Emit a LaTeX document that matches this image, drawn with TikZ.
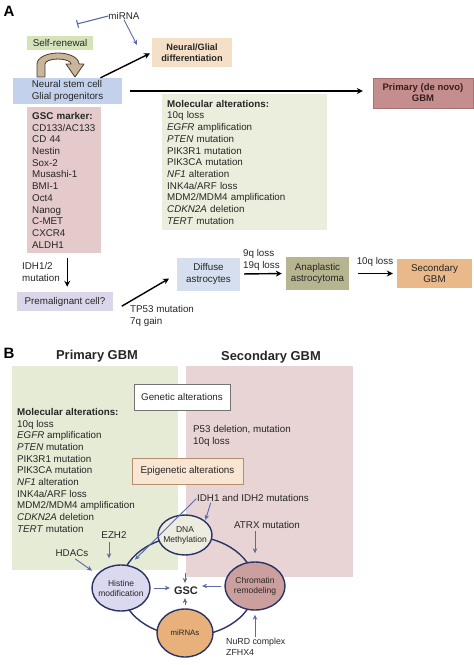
\documentclass[tikz,border=0pt]{standalone}
\usepackage{fontspec}
\setmainfont{Liberation Sans}
\usepackage{tikz}
\usetikzlibrary{arrows.meta,shapes.geometric}

\definecolor{ink}{HTML}{262626}
\definecolor{arrblue}{HTML}{5A6AA6}
\definecolor{navy}{HTML}{2A3363}
\definecolor{selfgreen}{HTML}{D5E3B8}
\definecolor{nscblue}{HTML}{C3D1EC}
\definecolor{neurtan}{HTML}{F5DFC6}
\definecolor{primrose}{HTML}{C48E8E}
\definecolor{primedge}{HTML}{A87272}
\definecolor{primink}{HTML}{3A1E1E}
\definecolor{gscpink}{HTML}{E4CACA}
\definecolor{molgreen}{HTML}{EBEEDC}
\definecolor{premlav}{HTML}{DCD6EA}
\definecolor{diffblue}{HTML}{D5DFF0}
\definecolor{anapolive}{HTML}{B7B58F}
\definecolor{secorange}{HTML}{E9B98A}
\definecolor{loopfill}{HTML}{C9B599}
\definecolor{loopedge}{HTML}{4D3B2A}
\definecolor{bgreen}{HTML}{E5EBD5}
\definecolor{bpink}{HTML}{E8D4D4}
\definecolor{epifill}{HTML}{F8E6D2}
\definecolor{epiedge}{HTML}{B58E6E}
\definecolor{histfill}{HTML}{DBD9EF}
\definecolor{dnafill}{HTML}{ECECDF}
\definecolor{chromfill}{HTML}{CC9F9F}
\definecolor{mirfill}{HTML}{E8B07A}

\newcommand{\bodysize}{\fontsize{9.8}{11.7}\selectfont}
\newcommand{\headsize}{\fontsize{9.2}{11}\selectfont\bfseries}
\newcommand{\titlesize}{\fontsize{12.9}{14}\selectfont\bfseries}
\newcommand{\ovalsize}{\fontsize{8.5}{10}\selectfont}

\begin{document}
\begin{tikzpicture}[x=1pt, y=-1pt,
  box/.style={inner sep=0pt, align=center, font=\bodysize, text=ink},
  lst/.style={anchor=north west, inner sep=0pt, align=left, font=\bodysize, text=ink},
  lbl/.style={inner sep=0pt, align=left, font=\bodysize, text=ink},
  arrow/.style={-{Stealth[length=6pt, width=6pt]}, line width=1.4pt, black},
  barrow/.style={-{Stealth[length=5pt, width=4.5pt]}, line width=0.9pt, arrblue},
  inhib/.style={-{Bar[width=8pt]}, line width=1.1pt, arrblue},
  epi/.style={ellipse, draw=navy, line width=1.4pt, inner sep=0pt},
  ovaltext/.style={align=center, font=\ovalsize, text=ink}
]
\useasboundingbox (0,0) rectangle (474,665);

% panel A
\node[font=\fontsize{15}{15}\selectfont\bfseries] (lblA) at (9,11) {A};
\node[box] (mirna) at (124,16) {miRNA};
\node[box, fill=selfgreen, minimum width=66pt, minimum height=14pt] (self) at (60,43) {Self-renewal};
\node[box, fill=neurtan, minimum width=80pt, minimum height=29pt, font=\headsize] (neur) at (192,52.5) {Neural/Glial\\differentiation};
\node[box, fill=nscblue, minimum width=109pt, minimum height=26pt, align=left] (nsc) at (67.5,91) {Neural stem cell\\Glial progenitors};
\node[box, fill=primrose, draw=primedge, minimum width=100pt, minimum height=30pt, font=\fontsize{9.5}{11}\selectfont\bfseries, text=primink] (prim) at (423,93) {Primary (de novo)\\GBM};
\node[lst, fill=gscpink, text width=64pt, inner xsep=5pt, minimum height=146pt] (gsc) at (27,107)
  {\textbf{GSC marker:}\\CD133/AC133\\CD 44\\Nestin\\Sox-2\\Musashi-1\\BMI-1\\Oct4\\Nanog\\C-MET\\CXCR4\\ALDH1};
\node[lst, fill=molgreen, text width=155pt, inner xsep=5pt, minimum height=136pt] (molA) at (162,94)
  {\textbf{Molecular alterations:}\\10q loss\\\textit{EGFR} amplification\\\textit{PTEN} mutation\\PIK3R1 mutation\\PIK3CA mutation\\\textit{NF1} alteration\\INK4a/ARF loss\\MDM2/MDM4 amplification\\\textit{CDKN2A} deletion\\\textit{TERT} mutation};
\node[lst] (idhA) at (22,262) {IDH1/2\\mutation};
\node[box, fill=premlav, minimum width=96pt, minimum height=19pt] (prem) at (65,301.5) {Premalignant cell?};
\node[lst] (tp53) at (130,305) {TP53 mutation\\7q gain};
\node[box, fill=diffblue, minimum width=63pt, minimum height=33pt] (diff) at (208.5,274) {Diffuse\\astrocytes};
\node[lst] (loss9) at (243,249) {9q loss\\19q loss};
\node[box, fill=anapolive, minimum width=63pt, minimum height=33pt] (anap) at (317.5,273.5) {Anaplastic\\astrocytoma};
\node[box] (loss10) at (375,262) {10q loss};
\node[box, fill=secorange, minimum width=75pt, minimum height=29pt] (sec) at (434.5,273.5) {Secondary\\GBM};

\coordinate (inh) at (77,24);
\coordinate (mtip) at (137,45);
\draw[inhib] (mirna.west) -- (inh);
\draw[barrow] (mirna.south) -- (mtip);
\draw[arrow, shorten >=2pt] ([xshift=33pt]nsc.north) -- (neur.west);
\draw[arrow, shorten <=8pt, shorten >=10pt] (nsc.east) -- (nsc.east -| prim.west);
\draw[arrow, shorten <=5pt, shorten >=5pt] ([xshift=3pt]gsc.south) -- ([xshift=3pt]gsc.south |- prem.north);
\draw[arrow, shorten <=10pt, shorten >=9pt] (prem.south east) -- (diff.west);
\draw[arrow, shorten <=4pt, shorten >=4pt] (diff.east) -- (anap.west);
\draw[arrow, shorten <=9pt, shorten >=4pt] (anap.east) -- (sec.west);

% self-renewal loop
\filldraw[fill=loopfill, draw=loopedge, line width=0.8pt, line join=round]
  (45,77) -- (37,77) -- (37,64) arc[start angle=180, end angle=360, x radius=21, y radius=11]
  -- (84,64) -- (75,77) -- (66,64) -- (71,64)
  arc[start angle=0, end angle=-180, x radius=13, y radius=5] -- cycle;

% panel B
\node[font=\fontsize{15}{15}\selectfont\bfseries] (lblB) at (9,353) {B};
\node[font=\titlesize, text=ink] (tprim) at (97,356) {Primary GBM};
\node[font=\titlesize, text=ink] (tsec) at (271,357) {Secondary GBM};
\node[fill=bgreen, minimum width=166pt, minimum height=204pt, anchor=north west, inner sep=0pt] (pgbm) at (12,366) {};
\node[fill=bpink, minimum width=167pt, minimum height=211pt, anchor=north west, inner sep=0pt] (sgbm) at (186,366) {};
\node[box, fill=white, draw=black!55, minimum width=96pt, minimum height=26pt] (gen) at (182,397) {Genetic alterations};
\node[lst] (molB) at (17,408)
  {\textbf{Molecular alterations:}\\10q loss\\\textit{EGFR} amplification\\\textit{PTEN} mutation\\PIK3R1 mutation\\PIK3CA mutation\\\textit{NF1} alteration\\INK4a/ARF loss\\MDM2/MDM4 amplification\\\textit{CDKN2A} deletion\\\textit{TERT} mutation};
\node[lst] (p53) at (193,425) {P53 deletion, mutation\\10q loss};
\node[box, fill=epifill, draw=epiedge, minimum width=111pt, minimum height=26pt] (epig) at (187.5,471) {Epigenetic alterations};
\node[box] (idh) at (253,498) {IDH1 and IDH2 mutations};
\node[box] (atrx) at (267,525) {ATRX mutation};
\node[box] (ezh) at (114,535) {EZH2};
\node[box] (hdac) at (72,553) {HDACs};

\node[ellipse, draw=navy, line width=1.4pt, minimum width=134pt, minimum height=100pt, inner sep=0pt] (ring) at (188,586) {};
\node[epi, fill=dnafill, minimum width=54pt, minimum height=40pt, label={[ovaltext]center:{DNA\\Methylation}}] (dna) at (185,535) {};
\node[epi, fill=histfill, minimum width=58pt, minimum height=46pt, label={[ovaltext]center:{Histine\\modification}}] (hist) at (121,588) {};
\node[epi, fill=chromfill, minimum width=60pt, minimum height=48pt, label={[ovaltext]center:{Chromatin\\remodeling}}] (chrom) at (255,586) {};
\node[epi, fill=mirfill, minimum width=56pt, minimum height=48pt, label={[ovaltext, font=\fontsize{7.8}{9}\selectfont]center:miRNAs}] (mir) at (185,633) {};
\node[font=\fontsize{11}{12}\selectfont\bfseries, text=ink, inner sep=1pt] (stem) at (186,591) {GSC};
\node[lst, font=\fontsize{8.8}{10.5}\selectfont] (nurd) at (226,638) {NuRD complex\\ZFHX4};

\draw[barrow, shorten <=17pt, shorten >=3pt] (dna.south) -- (dna.south |- stem.north);
\draw[barrow, shorten <=3pt, shorten >=3pt] (hist.east) -- (hist.east -| stem.west);
\draw[barrow, shorten <=3pt, shorten >=3pt] (chrom.west) -- (chrom.west -| stem.east);
\draw[barrow, shorten <=3pt, shorten >=2pt] (mir.north) -- (mir.north |- stem.south);
\draw[barrow, shorten <=1pt, shorten >=8pt] (idh.west) -- (hist.70);
\draw[barrow, shorten <=1pt, shorten >=1pt] ([xshift=-42pt]idh.south) -- (dna.35);
\draw[barrow, shorten <=2pt, shorten >=8pt] (chrom.north |- atrx.south) -- (chrom.north);
\draw[barrow, shorten <=3pt, shorten >=6pt] ([xshift=-5pt]ezh.south) -- ([xshift=-5pt]ezh.south |- hist.north);
\draw[barrow, shorten <=4pt, shorten >=6pt] (hdac.south) -- (hist.150);
\draw[barrow, shorten <=1pt, shorten >=4pt] (chrom.south |- nurd.north) -- (chrom.south);
\end{tikzpicture}
\end{document}
